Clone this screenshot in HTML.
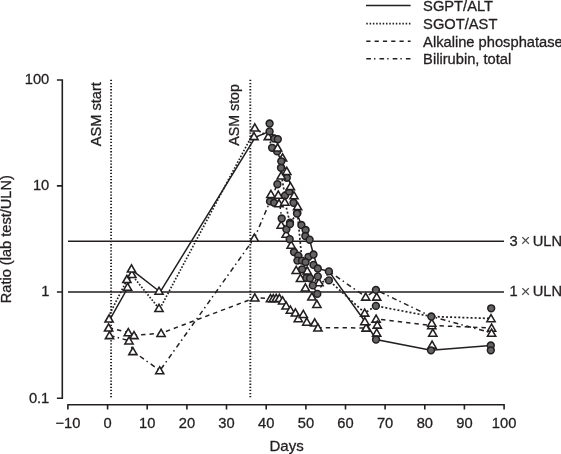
<!DOCTYPE html>
<html lang="en"><head><meta charset="utf-8"><title>Liver tests chart</title>
<style>html,body{margin:0;padding:0;background:#fff}svg{display:block}</style></head>
<body>
<svg width="561" height="454" viewBox="0 0 561 454">
<rect width="561" height="454" fill="#fff"/>
<g fill="none" stroke="#231f20" stroke-width="1.6">
<path d="M56.9 80H62.3V398.2H56.9M56.9 185.9H62.3M56.9 292H62.3"/>
<path d="M67.2 404.7H504.8M67.9 404.7V409.4M107.6 404.7V409.4M147.2 404.7V409.4M186.9 404.7V409.4M226.5 404.7V409.4M266.2 404.7V409.4M305.9 404.7V409.4M345.5 404.7V409.4M385.1 404.7V409.4M424.8 404.7V409.4M464.4 404.7V409.4M504.1 404.7V409.4"/>
<path d="M68 241.3H504M68 292H504"/>
<path d="M111.1 79.8V399M250.3 79.8V399" stroke-width="1.9" stroke-dasharray="1.3 1.8"/>
<path d="M366 5.5H410.6"/>
<path d="M366.3 23.6H410.6" stroke-width="1.8" stroke-dasharray="1.5 1.78"/>
<path d="M366.3 41.2H410.6" stroke-dasharray="4.2 4.1"/>
<path d="M366.3 58.7H410.6" stroke-dasharray="4.6 3.1 1.4 4.1"/>
<path d="M109.8 319.6L127.6 288.0L131.7 269.8L160.2 292.0L255.2 137.4L269.6 131.4L277.8 139.2L277.1 151.4L281.3 161.3L287.0 171.2L290.6 186.4L294.2 195.6L297.8 206.4L297.0 213.5L301.4 225.0L305.6 230.0L309.6 239.7L313.5 254.5L317.8 268.5L328.9 271.4L365.0 321.5L376.0 339.5L431.0 350.3L490.8 345.5" stroke-width="1.5"/>
<path d="M106.9 319.6L126.8 280.3L132.1 275.3L159.6 309.2L255.4 129.0" stroke-width="1.7" stroke-dasharray="1.6 1.7"/>
<path d="M255.4 129.0L268.5 136.4L272.1 147.8L277.8 147.8L282.8 157.8L281.4 175.7L285.0 195.6L285.0 202.0L290.0 223.0L297.4 212.9L302.0 260.6L308.5 256.8L307.4 270.7L310.0 278.2L319.2 282.5L328.9 280.4L364.9 312.9L375.9 305.9L431.3 316.5L491.2 318.5" stroke-width="1.7" stroke-dasharray="2 2.1"/>
<path d="M108.8 327.8L128.5 332.5L134.2 335.4L161.3 333.2L255.0 297.8L270.7 298.5L279.6 298.3L282.8 300.7L286.3 305.7L290.6 310.0L295.6 312.8L298.5 318.5L303.5 314.2L307.0 322.0L314.9 322.8L318.1 327.8L366.3 327.9L376.3 318.9L432.0 325.5L491.8 328.0" stroke-width="1.5" stroke-dasharray="4.4 4"/>
<path d="M109.7 335.4L129.2 340.7L133.1 351.4L159.9 370.6L254.5 238.0L270.0 201.4L277.4 184.2L278.5 195.0L281.7 218.5L286.4 229.3L289.7 239.2L294.0 252.0L298.2 255.6L302.1 269.3L306.4 277.8L312.8 285.4L317.3 293.9L328.9 271.4L365.9 296.9L375.9 289.9L431.3 316.5L491.8 333.0" stroke-width="1.5" stroke-dasharray="5 3.2 1.5 3.6"/>
</g>
<g stroke="#231f20" stroke-width="1.55" stroke-linejoin="miter">
<path d="M104.5 331.0L108.6 323.9L112.7 331.0Z" fill="#fff"/>
<path d="M124.2 335.7L128.3 328.6L132.4 335.7Z" fill="#fff"/>
<path d="M129.9 338.6L134.0 331.5L138.1 338.6Z" fill="#fff"/>
<path d="M157.0 336.4L161.1 329.3L165.2 336.4Z" fill="#fff"/>
<path d="M250.7 301.0L254.8 293.9L258.9 301.0Z" fill="#fff"/>
<path d="M266.4 301.7L270.5 294.6L274.6 301.7Z" fill="#fff"/>
<path d="M269.2 301.7L273.3 294.6L277.4 301.7Z" fill="#fff"/>
<path d="M272.1 301.5L276.2 294.4L280.3 301.5Z" fill="#fff"/>
<path d="M275.3 301.5L279.4 294.4L283.5 301.5Z" fill="#fff"/>
<path d="M278.5 303.9L282.6 296.8L286.7 303.9Z" fill="#fff"/>
<path d="M282.0 308.9L286.1 301.8L290.2 308.9Z" fill="#fff"/>
<path d="M286.3 313.2L290.4 306.1L294.5 313.2Z" fill="#fff"/>
<path d="M291.3 316.0L295.4 308.9L299.5 316.0Z" fill="#fff"/>
<path d="M294.2 321.7L298.3 314.6L302.4 321.7Z" fill="#fff"/>
<path d="M299.2 317.4L303.3 310.3L307.4 317.4Z" fill="#fff"/>
<path d="M302.7 325.2L306.8 318.1L310.9 325.2Z" fill="#fff"/>
<path d="M310.6 326.0L314.7 318.9L318.8 326.0Z" fill="#fff"/>
<path d="M313.8 331.0L317.9 323.9L322.0 331.0Z" fill="#fff"/>
<path d="M362.0 331.1L366.1 324.0L370.2 331.1Z" fill="#fff"/>
<path d="M372.0 322.1L376.1 315.0L380.2 322.1Z" fill="#fff"/>
<path d="M373.2 328.1L377.3 321.0L381.4 328.1Z" fill="#fff"/>
<path d="M427.7 328.7L431.8 321.6L435.9 328.7Z" fill="#fff"/>
<path d="M428.7 336.2L432.8 329.1L436.9 336.2Z" fill="#fff"/>
<path d="M487.5 331.2L491.6 324.1L495.7 331.2Z" fill="#fff"/>
<path d="M105.4 338.6L109.5 331.5L113.6 338.6Z" fill="#fff"/>
<path d="M124.9 343.9L129.0 336.8L133.1 343.9Z" fill="#fff"/>
<path d="M128.8 354.6L132.9 347.5L137.0 354.6Z" fill="#fff"/>
<path d="M155.6 373.8L159.7 366.7L163.8 373.8Z" fill="#fff"/>
<path d="M250.2 241.2L254.3 234.1L258.4 241.2Z" fill="#fff"/>
<path d="M277.1 228.2L281.2 221.1L285.3 228.2Z" fill="#fff"/>
<path d="M282.1 237.2L286.2 230.1L290.3 237.2Z" fill="#fff"/>
<path d="M287.1 248.2L291.2 241.1L295.3 248.2Z" fill="#fff"/>
<path d="M292.1 273.4L296.2 266.3L300.3 273.4Z" fill="#fff"/>
<path d="M296.4 281.4L300.5 274.3L304.6 281.4Z" fill="#fff"/>
<path d="M301.3 291.0L305.4 283.9L309.5 291.0Z" fill="#fff"/>
<path d="M307.8 300.0L311.9 292.9L316.0 300.0Z" fill="#fff"/>
<path d="M312.8 307.4L316.9 300.3L321.0 307.4Z" fill="#fff"/>
<path d="M361.6 300.1L365.7 293.0L369.8 300.1Z" fill="#fff"/>
<path d="M372.6 300.1L376.7 293.0L380.8 300.1Z" fill="#fff"/>
<path d="M427.7 326.2L431.8 319.1L435.9 326.2Z" fill="#fff"/>
<path d="M487.5 336.2L491.6 329.1L495.7 336.2Z" fill="#fff"/>
<path d="M122.8 282.5L126.9 275.4L131.0 282.5Z" fill="#fff"/>
<path d="M127.8 277.5L131.9 270.4L136.0 277.5Z" fill="#fff"/>
<path d="M154.9 311.4L159.0 304.3L163.1 311.4Z" fill="#fff"/>
<path d="M250.7 131.0L254.8 123.9L258.9 131.0Z" fill="#fff"/>
<path d="M264.2 139.6L268.3 132.5L272.4 139.6Z" fill="#fff"/>
<path d="M278.5 161.0L282.6 153.9L286.7 161.0Z" fill="#fff"/>
<path d="M303.1 273.9L307.2 266.8L311.3 273.9Z" fill="#fff"/>
<path d="M314.9 285.7L319.0 278.6L323.1 285.7Z" fill="#fff"/>
<path d="M360.6 316.1L364.7 309.0L368.8 316.1Z" fill="#fff"/>
<path d="M486.9 321.7L491.0 314.6L495.1 321.7Z" fill="#fff"/>
<path d="M105.0 322.0L109.1 314.9L113.2 322.0Z" fill="#fff"/>
<path d="M123.5 290.3L127.6 283.2L131.7 290.3Z" fill="#fff"/>
<path d="M127.4 272.0L131.5 264.9L135.6 272.0Z" fill="#fff"/>
<path d="M154.9 294.3L159.0 287.2L163.1 294.3Z" fill="#fff"/>
<path d="M249.9 139.6L254.0 132.5L258.1 139.6Z" fill="#fff"/>
<path d="M360.7 324.7L364.8 317.6L368.9 324.7Z" fill="#fff"/>
<path d="M372.6 336.1L376.7 329.0L380.8 336.1Z" fill="#fff"/>
<path d="M428.0 348.2L432.1 341.1L436.2 348.2Z" fill="#fff"/>
<circle cx="270.0" cy="201.4" r="3.4" fill="#646464"/>
<circle cx="277.4" cy="184.2" r="3.4" fill="#646464"/>
<circle cx="274.2" cy="202.8" r="3.4" fill="#646464"/>
<circle cx="281.7" cy="218.5" r="3.4" fill="#646464"/>
<circle cx="286.4" cy="229.3" r="3.4" fill="#646464"/>
<circle cx="289.7" cy="239.2" r="3.4" fill="#646464"/>
<circle cx="294.0" cy="252.0" r="3.4" fill="#646464"/>
<circle cx="298.2" cy="255.6" r="3.4" fill="#646464"/>
<circle cx="297.4" cy="260.6" r="3.4" fill="#646464"/>
<circle cx="302.1" cy="269.3" r="3.4" fill="#646464"/>
<circle cx="306.4" cy="277.8" r="3.4" fill="#646464"/>
<circle cx="312.8" cy="285.4" r="3.4" fill="#646464"/>
<circle cx="317.3" cy="293.9" r="3.4" fill="#646464"/>
<circle cx="375.9" cy="289.9" r="3.4" fill="#646464"/>
<circle cx="491.2" cy="308.3" r="3.4" fill="#646464"/>
<circle cx="269.6" cy="123.5" r="3.4" fill="#646464"/>
<circle cx="272.1" cy="147.8" r="3.4" fill="#646464"/>
<circle cx="285.0" cy="195.6" r="3.4" fill="#646464"/>
<circle cx="290.0" cy="222.7" r="3.4" fill="#646464"/>
<circle cx="290.0" cy="224.0" r="3.4" fill="#646464"/>
<circle cx="297.4" cy="212.9" r="3.4" fill="#646464"/>
<circle cx="308.5" cy="256.8" r="3.4" fill="#646464"/>
<circle cx="302.0" cy="260.6" r="3.4" fill="#646464"/>
<circle cx="305.6" cy="262.0" r="3.4" fill="#646464"/>
<circle cx="310.0" cy="278.2" r="3.4" fill="#646464"/>
<circle cx="317.8" cy="276.4" r="3.4" fill="#646464"/>
<circle cx="328.9" cy="280.4" r="3.4" fill="#646464"/>
<circle cx="375.9" cy="305.9" r="3.4" fill="#646464"/>
<circle cx="431.3" cy="316.5" r="3.4" fill="#646464"/>
<circle cx="269.6" cy="131.4" r="3.4" fill="#646464"/>
<circle cx="274.2" cy="138.5" r="3.4" fill="#646464"/>
<circle cx="277.8" cy="139.2" r="3.4" fill="#646464"/>
<circle cx="277.1" cy="151.4" r="3.4" fill="#646464"/>
<circle cx="281.3" cy="161.3" r="3.4" fill="#646464"/>
<circle cx="281.0" cy="167.8" r="3.4" fill="#646464"/>
<circle cx="286.8" cy="177.8" r="3.4" fill="#646464"/>
<circle cx="289.2" cy="191.4" r="3.4" fill="#646464"/>
<circle cx="293.5" cy="202.8" r="3.4" fill="#646464"/>
<circle cx="297.0" cy="213.5" r="3.4" fill="#646464"/>
<circle cx="301.4" cy="225.0" r="3.4" fill="#646464"/>
<circle cx="305.6" cy="230.0" r="3.4" fill="#646464"/>
<circle cx="305.3" cy="236.0" r="3.4" fill="#646464"/>
<circle cx="309.6" cy="239.7" r="3.4" fill="#646464"/>
<circle cx="313.5" cy="254.5" r="3.4" fill="#646464"/>
<circle cx="313.5" cy="264.9" r="3.4" fill="#646464"/>
<circle cx="317.8" cy="268.5" r="3.4" fill="#646464"/>
<circle cx="328.9" cy="271.4" r="3.4" fill="#646464"/>
<circle cx="376.0" cy="339.5" r="3.4" fill="#646464"/>
<circle cx="431.0" cy="350.3" r="3.4" fill="#646464"/>
<circle cx="490.8" cy="345.5" r="3.4" fill="#646464"/>
<circle cx="490.8" cy="350.3" r="3.4" fill="#646464"/>
<path d="M266.8 197.4L270.9 190.3L275.0 197.4Z" fill="#fff"/>
<path d="M274.2 198.2L278.3 191.1L282.4 198.2Z" fill="#fff"/>
<path d="M274.9 206.7L279.0 199.6L283.1 206.7Z" fill="#fff"/>
<path d="M273.5 151.0L277.6 143.9L281.7 151.0Z" fill="#fff"/>
<path d="M277.1 178.9L281.2 171.8L285.3 178.9Z" fill="#fff"/>
<path d="M280.7 205.2L284.8 198.1L288.9 205.2Z" fill="#fff"/>
<path d="M282.7 174.4L286.8 167.3L290.9 174.4Z" fill="#fff"/>
<path d="M286.3 189.6L290.4 182.5L294.5 189.6Z" fill="#fff"/>
<path d="M289.9 198.8L294.0 191.7L298.1 198.8Z" fill="#fff"/>
<path d="M293.5 209.6L297.6 202.5L301.7 209.6Z" fill="#fff"/>
</g>
<g fill="#231f20" font-family="'Liberation Sans', Arial, sans-serif" font-size="14.7" stroke="#231f20" stroke-width="0.3">
<text x="423.1" y="11.2">SGPT/ALT</text>
<text x="423.1" y="28.9">SGOT/AST</text>
<text x="423.1" y="46.6">Alkaline phosphatase</text>
<text x="423.1" y="64.3">Bilirubin, total</text>
<text x="49.3" y="84.1" text-anchor="end">100</text>
<text x="49.3" y="190.1" text-anchor="end">10</text>
<text x="49.3" y="296.1" text-anchor="end">1</text>
<text x="49.3" y="402.5" text-anchor="end">0.1</text>
<text x="67.9" y="427.5" text-anchor="middle">−10</text>
<text x="107.6" y="427.5" text-anchor="middle">0</text>
<text x="147.2" y="427.5" text-anchor="middle">10</text>
<text x="186.9" y="427.5" text-anchor="middle">20</text>
<text x="226.5" y="427.5" text-anchor="middle">30</text>
<text x="266.2" y="427.5" text-anchor="middle">40</text>
<text x="305.9" y="427.5" text-anchor="middle">50</text>
<text x="345.5" y="427.5" text-anchor="middle">60</text>
<text x="385.1" y="427.5" text-anchor="middle">70</text>
<text x="424.8" y="427.5" text-anchor="middle">80</text>
<text x="464.4" y="427.5" text-anchor="middle">90</text>
<text x="504.1" y="427.5" text-anchor="middle">100</text>
<text x="286.6" y="451" text-anchor="middle" font-size="15">Days</text>
<text x="509.5" y="245.5">3</text><text x="525.6" y="246.1" text-anchor="middle" font-size="16.5" fill="#4a4a4a" stroke="none">×</text><text x="532.7" y="245.5">ULN</text>
<text x="509.5" y="296.1">1</text><text x="525.6" y="296.70000000000005" text-anchor="middle" font-size="16.5" fill="#4a4a4a" stroke="none">×</text><text x="532.7" y="296.1">ULN</text>
<text transform="translate(101.4 146.2) rotate(-90)" font-size="14.6">ASM start</text>
<text transform="translate(238.9 145.8) rotate(-90)" font-size="14.25">ASM stop</text>
<text transform="translate(11 239.2) rotate(-90) scale(1,1.05)" text-anchor="middle" font-size="14.6">Ratio (lab test/ULN)</text>
</g>
</svg>
</body></html>
